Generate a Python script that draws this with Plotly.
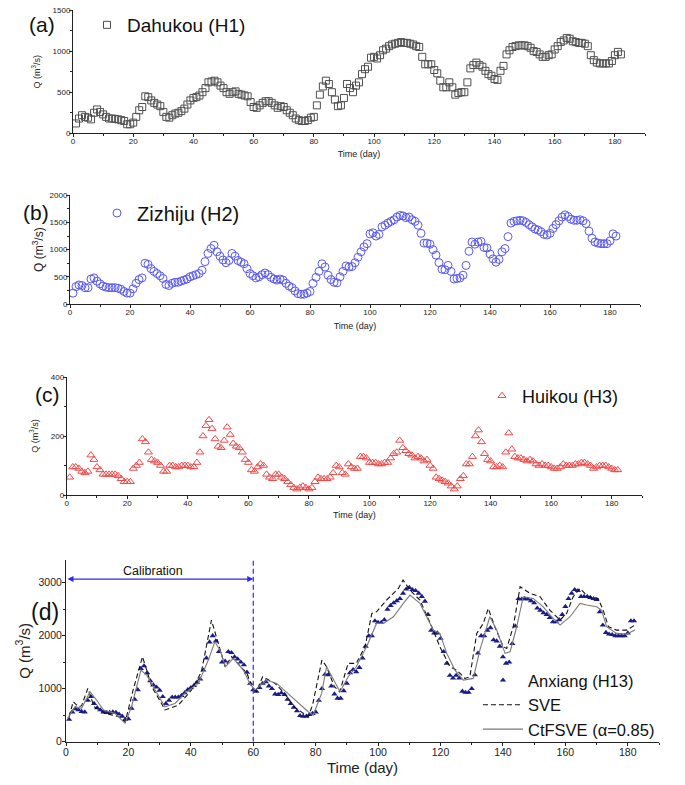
import plotly.graph_objects as go

# ---------------- data ----------------
days = list(range(1, 183))

dahukou_h1 = [
    120, 180, 220, 200, 190, 170, 250, 290, 260, 230,
    200, 180, 180, 175, 170, 160, 150, 110, 110, 130,
    200, 280, 320, 450, 440, 400, 370, 350, 330, 260,
    200, 190, 220, 240, 250, 270, 300, 350, 400, 430,
    440, 460, 500, 550, 620, 630, 640, 620, 580, 550,
    500, 480, 500, 510, 480, 470, 460, 450, 380, 320,
    310, 340, 370, 390, 390, 370, 340, 310, 330, 320,
    280, 250, 220, 180, 160, 150, 150, 160, 190, 200,
    340, 470, 570, 640, 600, 500, 410, 330, 340, 430,
    600, 550, 500, 580, 620, 720, 780, 810, 920, 930,
    910, 950, 1010, 1030, 1060, 1080, 1090, 1100, 1110, 1100,
    1100, 1090, 1080, 1060, 1050, 930, 840, 840, 840, 770,
    730, 640, 560, 560, 620, 560, 470, 490, 500, 500,
    620, 790, 830, 860, 830, 810, 760, 720, 700, 660,
    650, 760, 820, 960, 1010, 1050, 1060, 1070, 1070, 1070,
    1060, 1040, 1000, 990, 960, 930, 930, 950, 960, 1020,
    1060, 1110, 1130, 1160, 1150, 1120, 1110, 1100, 1100, 1090,
    1060, 950, 890, 860, 850, 850, 850, 850, 880, 950,
    990, 960,
]

zizhiju_h2 = [
    200, 320, 350, 340, 300, 300, 460, 480, 420, 370,
    330, 310, 300, 300, 300, 290, 270, 230, 200, 200,
    280, 380, 450, 480, 750, 730, 650, 600, 560, 520,
    470, 360, 340, 380, 400, 400, 420, 440, 460, 500,
    520, 540, 560, 620, 780, 930, 1020, 1080, 960, 880,
    810, 760, 800, 930, 880, 800, 770, 740, 650, 560,
    520, 480, 500, 540, 570, 540, 490, 460, 440, 460,
    440, 380, 330, 300, 240, 190, 180, 180, 200, 230,
    380, 490, 600, 740, 680, 530, 450, 400, 390, 500,
    600, 700, 680, 690, 760, 860, 960, 1050, 1110, 1290,
    1310, 1250, 1280, 1420, 1450, 1490, 1520, 1550, 1600, 1630,
    1620, 1590, 1600, 1550, 1520, 1450, 1300, 1120, 1120, 1100,
    1000, 900, 760, 640, 630, 710, 600, 460, 470, 480,
    530, 710, 970, 1140, 1100, 1140, 1150, 1040, 1030, 920,
    830, 770, 820, 960, 1020, 1240, 1490, 1520, 1530, 1540,
    1530, 1500, 1460, 1420, 1380, 1360, 1330, 1280, 1270, 1300,
    1390, 1460, 1530, 1600, 1640, 1610, 1560, 1540, 1540, 1550,
    1530, 1480, 1340, 1210, 1140, 1120, 1110, 1110, 1110, 1160,
    1290, 1250,
]

huikou_h3 = [
    60, 95, 95, 90, 80, 75, 80, 135, 120, 95,
    85, 70, 70, 70, 70, 70, 65, 55, 45, 45,
    45, 90, 100, 110, 190, 180, 145, 120, 115, 110,
    100, 80, 80, 100, 100, 95, 95, 100, 100, 100,
    95, 95, 110, 145, 200, 235, 255, 225, 190, 165,
    160, 185, 230, 205, 175, 165, 160, 145, 120, 110,
    85, 80, 95, 105, 100, 70, 60, 55, 70, 70,
    60, 55, 45, 35, 25, 20, 25, 30, 25, 20,
    25, 45, 60, 55, 55, 55, 60, 75, 100, 95,
    75, 70, 105, 95, 90, 90, 130, 130, 125, 110,
    110, 110, 105, 105, 110, 110, 125, 140, 145, 185,
    160, 150, 140, 135, 125, 130, 125, 115, 120, 100,
    90, 60, 55, 50, 45, 40, 30, 20, 30, 55,
    65, 105, 105, 130, 200, 220, 180, 140, 120, 115,
    95, 95, 100, 95, 145, 210, 155, 130, 125, 125,
    120, 115, 120, 115, 105, 100, 105, 100, 100, 95,
    90, 90, 95, 105, 100, 100, 100, 105, 105, 110,
    110, 105, 100, 90, 95, 100, 100, 100, 95, 90,
    85, 85,
]

anxiang_h13 = [
    420, 560, 620, 600, 570, 560, 780, 850, 720, 640,
    600, 560, 550, 550, 560, 550, 520, 480, 420, 430,
    630, 800, 980, 1380, 1430, 1300, 1150, 1070, 1030, 970,
    850, 720, 780, 840, 840, 840, 870, 920, 980, 1020,
    1060, 1120, 1180, 1350, 1580, 1880, 2000, 1900, 1700, 1500,
    1520, 1700, 1680, 1600, 1560, 1500, 1450, 1310, 1100, 980,
    950, 1020, 1100, 1130, 1050, 1000, 900, 890, 920, 890,
    800, 720, 650, 580, 490, 480, 480, 510, 530, 560,
    780, 1000, 1270, 1260, 1050, 900, 820, 820, 960, 1100,
    1300, 1360, 1320, 1400, 1580, 1800, 2000, 2000, 2280, 2250,
    2250, 2300, 2500, 2570, 2620, 2660, 2700, 2800, 2880, 2910,
    2870, 2850, 2800, 2740, 2650, 2400, 2100, 2050, 2050, 1950,
    1700, 1480, 1250, 1200, 1250, 1200, 950, 930, 930, 1000,
    1260, 1670, 2000, 2000, 2100, 2150, 1920, 1900, 1800, 1600,
    1480, 1500, 1850, 2180, 2700, 2690, 2700, 2690, 2660, 2620,
    2520, 2480, 2430, 2400, 2340, 2260, 2260, 2300, 2400, 2550,
    2700, 2800, 2870, 2850, 2740, 2740, 2740, 2720, 2700, 2680,
    2450, 2200, 2060, 2030, 2020, 2000, 2000, 2000, 2000, 2050,
    2280, 2280,
]

sve_days = [
    1, 2.3, 4, 5, 7, 9, 12.5, 17, 19, 21.5,
    24.5, 27.5, 30.6, 31.7, 36, 40.2, 43.4, 45.6, 46.6, 48.8,
    51, 53, 56, 58, 59.5, 61, 63, 67, 70, 73,
    77.6, 79, 82, 83.5, 86, 87.7, 90.4, 93, 95.8, 98,
    99.5, 102.7, 106.5, 108, 110.2, 113.4, 117.2, 119.8, 123, 125.2,
    127.8, 129.4, 131.6, 133.7, 135.3, 137.4, 140.1, 141.2, 143.3, 145.5,
    148.7, 151.9, 155, 158.3, 160.4, 162.5, 164.7, 167.3, 170.5, 172.1,
    173.8, 176.4, 179.6, 182.3,
]
sve_q = [
    470, 755, 660, 680, 1006, 660, 535, 470, 377, 975,
    1604, 1038, 723, 600, 690, 975, 1320, 1980, 2295, 1855,
    1415, 1604, 1415, 1290, 1038, 943, 1226, 1100, 912, 660,
    472, 692, 1540, 1415, 1038, 943, 1478, 1478, 1792, 2421,
    2453, 2673, 2893, 3051, 2862, 2673, 2170, 1792, 1415, 1352,
    1195, 1226, 2044, 2233, 2516, 2170, 1792, 1761, 2170, 2925,
    2799, 2736, 2485, 2296, 2421, 2736, 2893, 2736, 2705, 2485,
    2170, 2107, 2107, 2201,
]

ctfsve_days = [
    0.5, 2.9, 5, 7.7, 9.8, 12, 15.7, 18.9, 21, 24,
    25.8, 28.5, 31.7, 34.9, 38.1, 42.4, 45.6, 47.7, 49.3, 51.1,
    53.6, 56.8, 58.9, 60.5, 64.3, 67.5, 73.4, 77.6, 79.2, 81.9,
    83.5, 86.2, 87.8, 90.4, 93, 96.3, 99.5, 101.7, 104.9, 108.1,
    110.2, 113.4, 117.7, 119.8, 122, 124.6, 127.3, 130.5, 132.6, 135.8,
    138, 140.7, 142.3, 144.4, 146.5, 149.7, 152.9, 156.1, 158.3, 161.5,
    164.7, 166.8, 170, 171.6, 173.2, 176.4, 179.6, 182.3,
]
ctfsve_q = [
    440, 660, 630, 943, 786, 597, 535, 346, 660, 1352,
    1258, 975, 660, 723, 912, 1100, 1541, 1887, 1730, 1415,
    1572, 1352, 1100, 975, 1164, 1100, 786, 566, 503, 912,
    1415, 1100, 943, 1226, 1415, 1792, 2233, 2233, 2359, 2610,
    2767, 2610, 2107, 2044, 1667, 1352, 1164, 1195, 1730, 2359,
    2107, 1667, 1698, 2170, 2736, 2705, 2547, 2327, 2201, 2359,
    2610, 2579, 2547, 2485, 2170, 2044, 2031, 2107,
]

calibration_end = 60
calibration_arrow_q = 3070
x_tick_vals = [0, 20, 40, 60, 80, 100, 120, 140, 160, 180]

# ---------------- figure ----------------
W, H = 685, 785
fig = go.Figure()


def px_x(p):
    return p / W


def px_y(p):
    return 1 - p / H


fig.add_trace(go.Scatter(
    x=days, y=dahukou_h1, mode="markers", name="Dahukou (H1)",
    marker=dict(symbol="square-open", size=7, color="#505050", line=dict(width=1)),
    xaxis="x", yaxis="y", legend="legend"))
fig.add_trace(go.Scatter(
    x=days, y=zizhiju_h2, mode="markers", name="Zizhiju (H2)",
    marker=dict(symbol="circle-open", size=8, color="#5a5af0", line=dict(width=1)),
    xaxis="x2", yaxis="y2", legend="legend2"))
fig.add_trace(go.Scatter(
    x=days, y=huikou_h3, mode="markers", name="Huikou (H3)",
    marker=dict(symbol="triangle-up-open", size=7, color="#f04848", line=dict(width=1)),
    xaxis="x3", yaxis="y3", legend="legend3"))
fig.add_trace(go.Scatter(
    x=days, y=anxiang_h13, mode="markers", name="Anxiang (H13)",
    marker=dict(symbol="triangle-up", size=5.5, color="#1c1c86"),
    xaxis="x4", yaxis="y4", legend="legend4"))
fig.add_trace(go.Scatter(
    x=sve_days, y=sve_q, mode="lines", name="SVE",
    line=dict(color="#111111", width=1.1, dash="5px,3px"),
    xaxis="x4", yaxis="y4", legend="legend4"))
fig.add_trace(go.Scatter(
    x=ctfsve_days, y=ctfsve_q, mode="lines", name="CtFSVE (α=0.85)",
    line=dict(color="#7a7a7a", width=1.1),
    xaxis="x4", yaxis="y4", legend="legend4"))

font_family = "Liberation Sans, Arial, sans-serif"


def xaxis_style(domain, anchor, size, title_size, standoff, lab_off):
    return dict(
        domain=domain, anchor=anchor, range=[0, 190], tickvals=x_tick_vals,
        showline=True, linecolor="#222", linewidth=1, ticks="outside",
        ticklen=3, tickcolor="#222", showgrid=False, zeroline=False,
        minor=dict(ticks="outside", ticklen=2, dtick=10, tick0=0, tickcolor="#222"),
        tickfont=dict(size=size, color="#222", family=font_family),
        ticklabelstandoff=lab_off,
        title=dict(text="Time (day)", font=dict(size=title_size, color="#222", family=font_family),
                   standoff=standoff),
        automargin=False,
    )


def yaxis_style(domain, anchor, rng, dtick, size, title_size, standoff, minor_dtick, lab_off):
    return dict(
        domain=domain, anchor=anchor, range=rng, dtick=dtick, tick0=0,
        showline=True, linecolor="#222", linewidth=1, ticks="outside",
        ticklen=3, tickcolor="#222", showgrid=False, zeroline=False,
        minor=dict(ticks="outside", ticklen=2, dtick=minor_dtick, tick0=0, tickcolor="#222"),
        tickfont=dict(size=size, color="#222", family=font_family),
        ticklabelstandoff=lab_off,
        title=dict(text="Q (m<sup>3</sup>/s)", font=dict(size=title_size, color="#222", family=font_family),
                   standoff=standoff),
        automargin=False,
    )


fig.update_layout(
    width=W, height=H,
    margin=dict(l=0, r=0, t=0, b=0),
    paper_bgcolor="white", plot_bgcolor="white",
    font=dict(family=font_family, color="#222"),
    xaxis=xaxis_style([px_x(73), px_x(645)], "y", 8, 9, 5, -3),
    yaxis=yaxis_style([px_y(133.3), px_y(10)], "x", [0, 1500], 500, 8, 9, 10, 250, -3),
    xaxis2=xaxis_style([px_x(70), px_x(640)], "y2", 8, 9, 7, -3),
    yaxis2=yaxis_style([px_y(304), px_y(195.3)], "x2", [0, 2000], 500, 8, 12, 3, 250, -3),
    xaxis3=xaxis_style([px_x(66.7), px_x(642)], "y3", 8, 9, 5, -3),
    yaxis3=yaxis_style([px_y(495), px_y(377)], "x3", [0, 400], 200, 8, 9, 10, 100, -3),
    xaxis4=xaxis_style([px_x(66), px_x(659)], "y4", 10.5, 15, 5, -2),
    yaxis4=yaxis_style([px_y(741.7), px_y(560)], "x4", [0, 3430], 1000, 10.5, 15, 4, 500, -2),
    showlegend=True,
    legend=dict(x=px_x(87), y=px_y(25), xanchor="left", yanchor="middle",
                font=dict(size=19, color="#111", family=font_family),
                bgcolor="rgba(0,0,0,0)", itemwidth=30),
    legend2=dict(x=px_x(97), y=px_y(213), xanchor="left", yanchor="middle",
                 font=dict(size=20, color="#111", family=font_family),
                 bgcolor="rgba(0,0,0,0)", itemwidth=30),
    legend3=dict(x=px_x(482), y=px_y(396), xanchor="left", yanchor="middle",
                 font=dict(size=18, color="#111", family=font_family),
                 bgcolor="rgba(0,0,0,0)", itemwidth=30),
    legend4=dict(x=px_x(478), y=px_y(705), xanchor="left", yanchor="middle",
                 font=dict(size=16.5, color="#111", family=font_family),
                 bgcolor="rgba(0,0,0,0)", itemwidth=40, tracegroupgap=0),
)

# panel labels
for label, cx, cy, sz in [("(a)", 42, 25, 21), ("(b)", 36, 213, 21),
                          ("(c)", 47, 394, 21), ("(d)", 45, 612, 23)]:
    fig.add_annotation(text=label, x=px_x(cx), y=px_y(cy), xref="paper", yref="paper",
                       showarrow=False, xanchor="center", yanchor="middle",
                       font=dict(size=sz, color="#111", family=font_family))

# calibration marker
fig.add_shape(type="line", xref="x4", yref="y4", x0=calibration_end, x1=calibration_end,
              y0=0, y1=3430, line=dict(color="#2a2aee", width=1.2, dash="5px,3px"))
fig.add_annotation(x=calibration_end, y=calibration_arrow_q, ax=0, ay=calibration_arrow_q,
                   xref="x4", yref="y4", axref="x4", ayref="y4", text="",
                   showarrow=True, arrowhead=2, startarrowhead=2, arrowside="end+start",
                   arrowsize=1, arrowwidth=1.2, arrowcolor="#2a2aee", startstandoff=0, standoff=0)
fig.add_annotation(x=28, y=3230, xref="x4", yref="y4", text="Calibration", showarrow=False,
                   font=dict(size=12.5, color="#111", family=font_family))

fig.write_html("out.html", config={"displayModeBar": False},
               post_script="document.body.style.margin='0';")
